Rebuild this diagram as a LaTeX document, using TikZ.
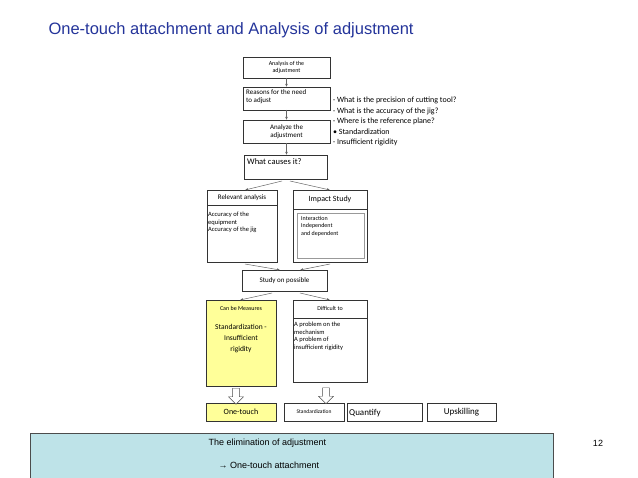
\documentclass[tikz,border=0pt]{standalone}
\usepackage{fontspec}
\setmainfont{Liberation Sans}
\newfontfamily\carl{Carlito}
\usetikzlibrary{shapes.arrows,arrows.meta}
\definecolor{ttl}{HTML}{24349A}
\definecolor{yel}{HTML}{FFFF99}
\definecolor{tealbg}{HTML}{BEE3E8}
\begin{document}
\begin{tikzpicture}[x=1pt,y=-1pt,
 bx/.style={draw=black!80,line width=0.6pt,fill=white,inner sep=0},
 ar/.style={draw=black!60,line width=0.5pt,-{Latex[length=3pt,width=2.5pt]}},
 tx/.style={font=\carl\fontsize{7}{8}\selectfont,align=center,inner sep=0},
 tl/.style={font=\carl\fontsize{6.5}{7.5}\selectfont,align=left,inner sep=0,anchor=north west},
 hol/.style={single arrow,draw=black!70,fill=white,shape border rotate=270,minimum height=16pt,minimum width=15pt,single arrow head extend=2pt,inner sep=1.5pt}]
\useasboundingbox (0,0) rectangle (638,478);
\node[font=\fontsize{16.5}{18}\selectfont,text=ttl,anchor=west] (title) at (45,30) {One-touch attachment and Analysis of adjustment};
% boxes
\draw[bx] (243,57) rectangle (330,78);
\node[tx,font=\carl\fontsize{6}{7}\selectfont] (b1) at (286.5,67.5) {Analysis of the\\adjustment};
\draw[bx] (243,87) rectangle (330,110);
\node[tl,font=\carl\fontsize{7}{8}\selectfont] (b2) at (246,89) {Reasons for the need\\to adjust};
\draw[bx] (243,120) rectangle (330,143);
\node[tx] (b3) at (286.5,131.5) {Analyze the\\adjustment};
\draw[bx] (244,155) rectangle (327,179);
\node[tl,font=\carl\fontsize{8.5}{9}\selectfont] (b4) at (247,158) {What causes it?};
\draw[bx] (207,190) rectangle (277,262); \draw[black!80] (207,205)--(277,205);
\node[tx] (b5) at (242,197.5) {Relevant analysis};
\node[tl] (b5t) at (208,212) {Accuracy of the\\equipment\\Accuracy of the jig};
\draw[bx] (293,190) rectangle (367,262); \draw[black!80] (293,209)--(367,209);
\draw[black!40] (297,213) rectangle (364,258);
\node[tx,font=\carl\fontsize{8}{9}\selectfont] (b6) at (330,199.5) {Impact Study};
\node[tl,font=\carl\fontsize{6}{7.5}\selectfont] (b6t) at (301,216) {Interaction\\Independent\\and dependent};
\draw[bx] (242,270) rectangle (327,291);
\node[tx] (b7) at (284.5,280.5) {Study on possible};
\draw[bx,fill=yel] (206,300) rectangle (276,386);
\node[tx,font=\carl\fontsize{6}{7}\selectfont] (b8h) at (241,308) {Can be Measures};
\node[tx,font=\carl\fontsize{7.5}{11}\selectfont] (b8t) at (241,339) {Standardization -\\Insufficient\\rigidity};
\draw[bx] (293,300) rectangle (367,382); \draw[black!80] (293,318)--(367,318);
\node[tx,font=\carl\fontsize{6}{7}\selectfont] (b9h) at (330,308) {Difficult to};
\node[tl] (b9t) at (294,322) {A problem on the\\mechanism\\A problem of\\insufficient rigidity};
% bottom row
\draw[bx,fill=yel] (206,403) rectangle (276,421);
\node[tx,font=\carl\fontsize{8}{9}\selectfont] (o1) at (241,412) {One-touch};
\draw[bx] (284,403) rectangle (344,421);
\node[tx,font=\carl\fontsize{5.5}{6}\selectfont] (o2) at (314,412) {Standardization};
\draw[bx] (347,403) rectangle (422,421);
\node[tl,font=\carl\fontsize{9}{10}\selectfont,anchor=west] (o3) at (349,413) {Quantify};
\draw[bx] (427,403) rectangle (496,421);
\node[tx,font=\carl\fontsize{9}{10}\selectfont] (o4) at (461.5,412) {Upskilling};
% bullets
\node[tl,font=\carl\fontsize{8}{10.5}\selectfont] (bl) at (333,97) {· What is the precision of cutting tool?\\· What is the accuracy of the jig?\\· Where is the reference plane?\\• Standardization\\· Insufficient rigidity};
% arrows
\draw[ar] (286.5,78)--(286.5,87);
\draw[ar] (286.5,110)--(286.5,120);
\draw[ar] (286.5,143)--(286.5,155);
\draw[ar] (282,181)--(245,190);
\draw[ar] (290,181)--(330,190);
\draw[ar] (245,264)--(280,270);
\draw[ar] (330,264)--(300,270);
\draw[ar] (272,293)--(240,300);
\draw[ar] (300,293)--(330,300);
\node[hol] (h1) at (236,394.5) {};
\node[hol] (h2) at (326,394) {};
% footer
\draw[black!70,fill=tealbg] (30,433) rectangle (553,478);
\node[anchor=west,font=\fontsize{9}{10}\selectfont] (f1) at (205,443) {The elimination of adjustment};
\node[anchor=west,font=\fontsize{9}{10}\selectfont] (f2) at (215,465) {→ One-touch attachment};
\node[font=\fontsize{9}{10}\selectfont] (pg) at (598,443) {12};
\end{tikzpicture}
\end{document}
